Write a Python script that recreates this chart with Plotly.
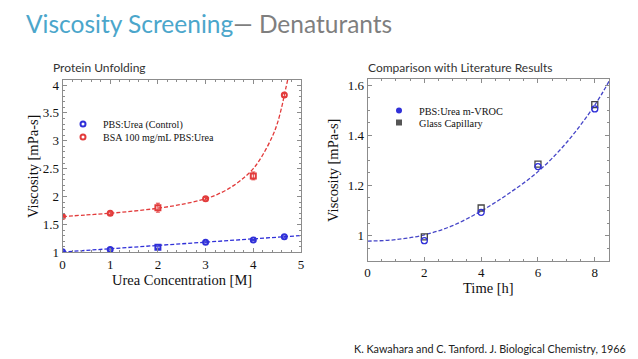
import plotly.graph_objects as go

# ---------------- data: left panel (Protein Unfolding) ----------------
urea_conc = [0, 1, 2, 3, 4, 4.65]
control_visc = [1.01, 1.05, 1.09, 1.18, 1.22, 1.28]
control_err = [0.01, 0.01, 0.02, 0.01, 0.01, 0.01]
bsa_visc = [1.64, 1.70, 1.80, 1.96, 2.37, 3.82]
bsa_err = [0.02, 0.02, 0.08, 0.02, 0.07, 0.03]
control_symbols = ["circle-open", "circle-open", "square-open", "circle-open", "circle-open", "circle-open"]
bsa_symbols = ["circle-open", "circle-open", "square-open", "circle-open", "square-open", "circle-open"]

control_fit_x = [0, 5]
control_fit_y = [1.005, 1.30]
bsa_fit_x = [0, 0.5, 1, 1.5, 2, 2.5, 3, 3.25, 3.5, 3.75, 4, 4.2, 4.4, 4.5, 4.6, 4.65, 4.72]
bsa_fit_y = [1.64, 1.67, 1.70, 1.74, 1.79, 1.86, 1.96, 2.04, 2.15, 2.30, 2.50, 2.75, 3.08, 3.30, 3.62, 3.82, 4.09]

# ---------------- data: right panel (Literature comparison) ----------------
time_h = [2, 4, 6, 8]
mvroc_visc = [0.98, 1.093, 1.275, 1.505]
capillary_visc = [0.995, 1.11, 1.285, 1.522]
lit_fit_x = [0, 1, 2, 3, 4, 5, 6, 7, 8, 8.5]
lit_fit_y = [0.978, 0.984, 1.003, 1.04, 1.098, 1.17, 1.255, 1.37, 1.52, 1.615]

# labels
left_names = ["PBS:Urea (Control)", "BSA 100 mg/mL PBS:Urea"]
right_names = ["PBS:Urea m-VROC", "Glass Capillary"]

BLUE = "#3030d8"
RED = "#e23b3b"
GRAY = "#444444"
SERIF = "Liberation Serif"
SANS = "Lato"

fig = go.Figure()

# left panel
fig.add_trace(go.Scatter(x=control_fit_x, y=control_fit_y, mode="lines",
                         line=dict(color=BLUE, width=1.3, dash="4px,2px"),
                         showlegend=False, xaxis="x", yaxis="y", hoverinfo="skip"))
fig.add_trace(go.Scatter(x=bsa_fit_x, y=bsa_fit_y, mode="lines", line_shape="spline",
                         line=dict(color=RED, width=1.3, dash="4px,2px"),
                         showlegend=False, xaxis="x", yaxis="y", hoverinfo="skip"))
fig.add_trace(go.Scatter(x=urea_conc, y=control_visc, mode="markers",
                         marker=dict(symbol=control_symbols, size=5, color=BLUE, line=dict(color=BLUE, width=2)),
                         error_y=dict(type="data", array=control_err, color=BLUE, thickness=1, width=2),
                         showlegend=False, xaxis="x", yaxis="y"))
fig.add_trace(go.Scatter(x=urea_conc, y=bsa_visc, mode="markers",
                         marker=dict(symbol=bsa_symbols, size=5, color=RED, line=dict(color=RED, width=2)),
                         error_y=dict(type="data", array=bsa_err, color=RED, thickness=1, width=2),
                         showlegend=False, xaxis="x", yaxis="y"))
# left legend entries
fig.add_trace(go.Scatter(x=[None], y=[None], mode="markers", name=left_names[0],
                         marker=dict(symbol="circle-open", size=5, color=BLUE, line=dict(color=BLUE, width=2)),
                         legend="legend", xaxis="x", yaxis="y"))
fig.add_trace(go.Scatter(x=[None], y=[None], mode="markers", name=left_names[1],
                         marker=dict(symbol="circle-open", size=5, color=RED, line=dict(color=RED, width=2)),
                         legend="legend2", xaxis="x", yaxis="y"))

# right panel
fig.add_trace(go.Scatter(x=lit_fit_x, y=lit_fit_y, mode="lines", line_shape="spline",
                         line=dict(color="#4646c8", width=1.3, dash="4px,2px"),
                         showlegend=False, xaxis="x2", yaxis="y2", hoverinfo="skip"))
fig.add_trace(go.Scatter(x=time_h, y=capillary_visc, mode="markers",
                         marker=dict(symbol="square-open", size=6, color=GRAY, line=dict(color=GRAY, width=1.3)),
                         showlegend=False, xaxis="x2", yaxis="y2"))
fig.add_trace(go.Scatter(x=time_h, y=mvroc_visc, mode="markers",
                         marker=dict(symbol="circle-open", size=6, color=BLUE, line=dict(color=BLUE, width=1.3)),
                         showlegend=False, xaxis="x2", yaxis="y2"))
fig.add_trace(go.Scatter(x=[None], y=[None], mode="markers", name=right_names[0],
                         marker=dict(symbol="circle", size=6, color=BLUE),
                         legend="legend3", xaxis="x2", yaxis="y2"))
fig.add_trace(go.Scatter(x=[None], y=[None], mode="markers", name=right_names[1],
                         marker=dict(symbol="square", size=6, color="#555555"),
                         legend="legend4", xaxis="x2", yaxis="y2"))

axis_common = dict(showgrid=False, zeroline=False, showline=True, linecolor="#8c8c8c", linewidth=1,
                   mirror="ticks", ticks="inside", ticklen=4, tickcolor="#8c8c8c", automargin=False,
                   tickfont=dict(family=SERIF, size=13, color="#111"))

fig.update_layout(
    width=638, height=359, margin=dict(l=0, r=0, t=0, b=0, autoexpand=False),
    paper_bgcolor="white", plot_bgcolor="white", showlegend=True,
    xaxis=dict(domain=[62.5/638, 301/638], range=[0, 5], dtick=1,
               minor=dict(ticks="inside", ticklen=2, dtick=0.2, tickcolor="#8c8c8c"),
               anchor="y", **axis_common),
    yaxis=dict(domain=[1-252.3/359, 1-80/359], range=[1, 4.09], dtick=0.5,
               minor=dict(ticks="inside", ticklen=2, dtick=0.1, tickcolor="#8c8c8c"),
               anchor="x", **axis_common),
    xaxis2=dict(domain=[367.5/638, 609/638], range=[0, 8.5], dtick=2,
                minor=dict(ticks="inside", ticklen=2, dtick=0.5, tickcolor="#8c8c8c"),
                anchor="y2", **axis_common),
    yaxis2=dict(domain=[1-260.7/359, 1-79.3/359], range=[0.9, 1.623], dtick=0.2, tick0=1,
                minor=dict(ticks="inside", ticklen=2, dtick=0.05, tickcolor="#8c8c8c"),
                anchor="x2", **axis_common),
)

legend_common = dict(bgcolor="rgba(0,0,0,0)", borderwidth=0, xanchor="left", yanchor="middle",
                     itemwidth=30)
lf = dict(family=SERIF, size=10, color="#111")
rf = dict(family=SERIF, size=10.3, color="#111")
fig.update_layout(
    legend=dict(x=63/638, y=1-124/359, font=lf, **legend_common),
    legend2=dict(x=63/638, y=1-137/359, font=lf, **legend_common),
    legend3=dict(x=379/638, y=1-110.5/359, font=rf, **legend_common),
    legend4=dict(x=379/638, y=1-122.5/359, font=rf, **legend_common),
)

# axis titles
tf = dict(family=SERIF, size=14.5, color="#111")
def paper_text(x, y, text, font, angle=0, xanchor="center"):
    fig.add_annotation(x=x/638, y=1-y/359, xref="paper", yref="paper", xanchor=xanchor, yanchor="middle",
                       showarrow=False, text=text, font=font, textangle=angle)

paper_text(182, 280, "Urea Concentration [M]", tf)
paper_text(33, 167, "Viscosity [mPa-s]", tf, angle=-90)
paper_text(488, 287.5, "Time [h]", tf)
paper_text(333, 171, "Viscosity [mPa-s]", tf, angle=-90)

# slide texts
paper_text(24, 24,
           "<span style='color:#4ba6cb'>Viscosity Screening</span><span style='color:#7f7f7f'>— Denaturants</span>",
           dict(family=SANS, size=24.5), xanchor="left")
paper_text(51, 67, "Protein Unfolding", dict(family=SANS, size=12, color="#333"), xanchor="left")
paper_text(366, 67, "Comparison with Literature Results", dict(family=SANS, size=12, color="#333"), xanchor="left")
paper_text(352, 348, "K. Kawahara and C. Tanford. J. Biological Chemistry, 1966",
           dict(family=SANS, size=10.8, color="#222"), xanchor="left")

fig.write_html("out.html", post_script="document.body.style.margin='0';",
               config={"displayModeBar": False})
